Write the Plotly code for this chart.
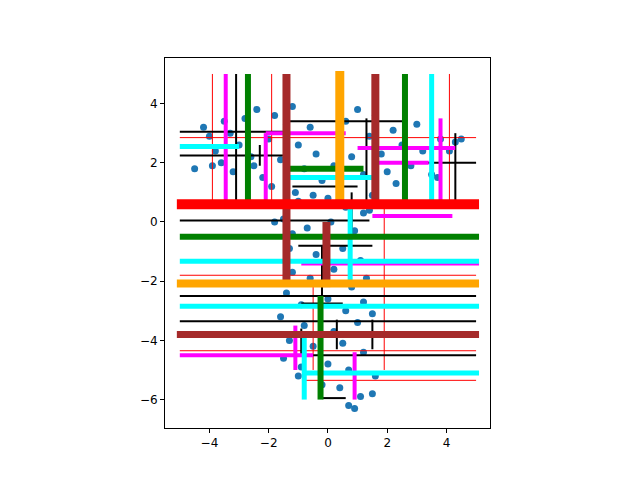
import plotly.graph_objects as go

pts_x = [-4.5,-4.2,-4,-3.8,-3.6,-3.5,-3.2,-3,-2.8,-2.6,-2.4,-2.2,-2,-1.8,-1.6,-1.4,-1.2,-1,-0.8,-0.6,-0.4,-0.2,-3.9,-3.3,-2.5,-1.9,-1.1,
         0.2,0.4,0.6,0.8,1,1.2,1.4,1.6,1.8,2,2.2,2.5,2.8,3,3.2,3.5,3.8,4.1,4.3,4.5,2.3,1.5,3.7,
         -1,-0.5,0,0.6,1.2,-1.5,-1.8,-1.2,-0.7,0.1,0.9,1.4,-1.3,-0.4,0.5,1.1,-1.2,-0.6,0.2,0.8,1.3,-1.4,-0.9,0,0.6,1.2,
         -1.6,-0.8,0.2,1.0,1.5,-1.3,-0.5,0.5,1.2,-1.5,-0.9,0,0.7,1.6,-1,-0.2,0.4,1.5,0.7,0.9,1.1]
pts_y = [1.8,3.2,2.9,2.4,2.0,3.4,1.7,2.6,3.5,2.2,3.8,1.5,2.8,3.6,2.1,3.3,3.9,2.6,1.8,3.2,2.3,1.4,1.9,3.0,1.9,1.2,1.0,
         1.9,2.7,3.4,2.2,3.8,1.6,2.9,3.6,2.3,1.7,3.1,2.6,1.9,3.3,2.4,1.6,2.8,2.4,2.7,2.8,1.3,0.9,1.5,
         0.7,0.9,0.8,0.5,0.3,0.1,0.0,-0.4,-0.2,0.0,-0.3,0.4,-0.9,-1.1,-0.9,-1.3,-1.7,-1.9,-1.6,-2.2,-1.9,-2.4,-2.8,-2.6,-3.0,-2.7,
         -3.2,-3.5,-3.7,-3.4,-3.1,-4.0,-4.2,-4.1,-4.4,-4.6,-4.9,-4.8,-5.0,-5.2,-5.2,-5.5,-5.6,-5.8,-6.2,-6.3,-5.9]

# horizontal segments: (y, xmin, xmax)
h_red_thick = [(0.6, -5.1, 5.1)]
h_orange = [(-2.08, -5.1, 5.1)]
h_brown = [(-3.8, -5.1, 5.1)]
h_green = [(-0.5, -5.0, 5.1), (1.8, -1.5, 1.2)]
h_cyan = [(-1.33, -5.0, 5.1), (-5.1, -0.8, 5.1), (2.55, -5.0, -3.0), (1.5, -1.5, 1.5), (-2.85, -5.0, 5.1)]
h_magenta = [(-4.5, -5.0, -0.5), (-1.4, -0.9, 5.1), (0.2, 1.5, 4.2), (2.0, 1.5, 3.4), (2.5, 1.0, 4.3), (3.0, -2.1, 0.6)]
h_black = [(3.05, -5, -1.5), (2.25, -5, -1.3), (3.4, -1.5, 2.5), (0.05, -5, 1.4), (-2.5, -5, 5), (-3.35, -5, 5),
           (-4.5, -0.5, 5), (-5.95, -0.2, 0.6), (2.0, 2.5, 5), (-0.8, -1, 1.5), (1.2, -1.2, 1), (-2.75, -0.9, 0.5)]
h_red_thin = [(2.85, -5, 5), (-1.8, -5, 5), (-5.35, -0.8, 5), (-4.35, -5, 5)]

# vertical segments: (x, ymin, ymax)
v_magenta = [(-3.45, 0.6, 5), (-2.1, 0.6, 3), (3.8, 0.6, 3.5), (0.9, -6, -4.4), (-1.1, -5, -3.5)]
v_green = [(-2.7, 0.6, 5), (2.6, 0.6, 5), (-0.25, -6, -2.5)]
v_brown = [(-1.4, -2, 5), (1.6, 0.6, 5), (-0.05, -2.2, 0)]
v_orange = [(0.4, 0.6, 5.1)]
v_cyan = [(3.5, 0.6, 5), (-0.8, -6, -3.7), (0.75, -2, 0.6)]
v_black = [(-3.1, 0.6, 5), (-2.3, 1.9, 2.6), (1.3, 0.6, 3.5), (4.3, 0.6, 3.0), (-0.9, -4.5, -3.6),
           (0.3, -4.3, -3.3), (1.5, -4.3, -3.3), (0.8, -0.5, 1), (-0.2, -3, -0.8)]
v_red_thin = [(-3.9, 0.6, 5), (-1.9, 0.6, 5), (4.1, 0.6, 5), (-0.5, -5, -2), (1.9, -5, 0.6)]

fig = go.Figure()
fig.add_trace(go.Scatter(x=pts_x, y=pts_y, mode="markers",
                         marker=dict(color="#1f77b4", size=7), hoverinfo="skip"))

def add_h(segs, color, width):
    xs, ys = [], []
    for y, a, b in segs:
        xs += [a, b, None]; ys += [y, y, None]
    fig.add_trace(go.Scatter(x=xs, y=ys, mode="lines", line=dict(color=color, width=width)))

def add_v(segs, color, width):
    xs, ys = [], []
    for x, a, b in segs:
        xs += [x, x, None]; ys += [a, b, None]
    fig.add_trace(go.Scatter(x=xs, y=ys, mode="lines", line=dict(color=color, width=width)))

add_h(h_red_thin, "red", 1); add_v(v_red_thin, "red", 1)
add_h(h_black, "black", 2); add_v(v_black, "black", 2)
add_h(h_magenta, "magenta", 4); add_v(v_magenta, "magenta", 4)
add_h(h_cyan, "cyan", 5); add_v(v_cyan, "cyan", 5)
add_h(h_green, "green", 6); add_v(v_green, "green", 6)
add_h(h_brown, "brown", 7); add_v(v_brown, "brown", 8)
add_h(h_orange, "orange", 8); add_v(v_orange, "orange", 9)
add_h(h_red_thick, "red", 10)

fig.update_layout(width=640, height=480, showlegend=False, plot_bgcolor="white", paper_bgcolor="white",
                  margin=dict(l=157, r=158, t=50, b=60),
                  font=dict(family="DejaVu Sans", size=12, color="black"))
ax = dict(showgrid=False, zeroline=False, showline=True, mirror=True, linecolor="black", linewidth=1,
          ticks="outside", ticklen=4, tickcolor="black", automargin=False)
fig.update_xaxes(range=[-5.5, 5.47], tickvals=[-4, -2, 0, 2, 4], **ax)
fig.update_yaxes(range=[-6.96, 5.54], tickvals=[-6, -4, -2, 0, 2, 4], **ax)
fig.write_html("out.html")
